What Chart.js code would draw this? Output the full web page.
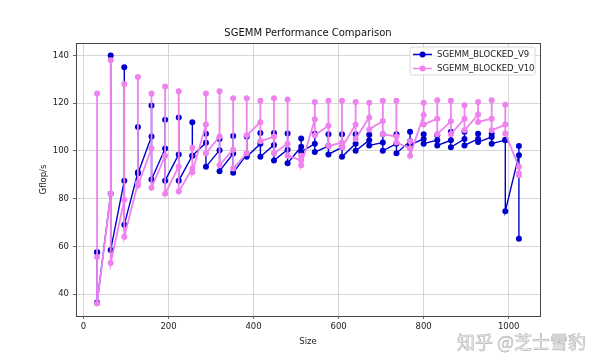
<!DOCTYPE html>
<html>
<head>
<meta charset="utf-8">
<title>SGEMM Performance Comparison</title>
<script src="https://cdn.jsdelivr.net/npm/chart.js@4.4.0/dist/chart.umd.min.js"></script>
<style>
    html, body { margin: 0; padding: 0; background: #fff; }
    #wrap { position: relative; width: 600px; height: 360px; }
    #watermark {
        position: absolute; left: 457px; top: 328px;
        font-family: "Noto Sans CJK SC", sans-serif; font-size: 18px;
        color: #f0f0f0; -webkit-text-stroke: 0.6px #b4b4b4;
        white-space: nowrap; pointer-events: none;
    }
</style>
</head>
<body>
<div id="wrap">
    <canvas id="perfChart" width="600" height="360"></canvas>
    <div id="watermark">知乎 @芝士雪豹</div>
</div>
<script>
// Matrix sizes (each size was measured three times, in plot order)
const sizes = [32, 64, 96, 128, 160, 192, 224, 256, 288, 320, 352, 384, 416, 448, 480, 512,
               544, 576, 608, 640, 672, 704, 736, 768, 800, 832, 864, 896, 928, 960, 992, 1024];

// Gflop/s per size
const blockedV9 = [
    [57.5, 57.5, 36.5], [82, 140, 58.5], [87.5, 135, 69], [91, 110, 90.5],
    [106, 119, 88], [101, 113, 87.5], [98.5, 114, 87.5], [98, 112, 98],
    [103.4, 107.2, 93.3], [100.3, 105, 91.5], [98.9, 106.2, 90.8], [98.5, 106, 97.5],
    [103, 107.5, 97.5], [102.5, 107.5, 96], [100.5, 107.3, 94.8], [101.7, 105.2, 99.6],
    [103, 107.2, 99.5], [102, 107, 98.5], [101.5, 107, 97.5], [103, 107, 100],
    [104.5, 106.8, 102.3], [103.5, 107, 100], [103, 107, 99], [104, 108, 102.5],
    [105, 107, 103], [104.5, 106.5, 102.3], [104.4, 108, 101.5], [105, 108, 102.3],
    [105, 107.2, 103.7], [105.8, 107.2, 103], [104.5, 104.7, 74.7], [98.2, 102, 63.2]
];
const blockedV10 = [
    [55.5, 124, 36], [82, 138, 53], [79.5, 128, 64], [86.5, 131, 85.5],
    [101, 124, 84.5], [98, 127, 82], [93.5, 125, 83], [92.6, 101.3, 91],
    [111, 124, 99], [106, 125, 94], [100.5, 122, 92.6], [99, 122, 106.5],
    [112, 121, 104], [106, 122, 99], [103, 121.5, 98], [96, 98, 94],
    [113.2, 120.5, 106.5], [110.5, 121, 102], [103.5, 121, 101.5], [111, 120.5, 105],
    [114, 120.2, 109], [112.5, 121, 107], [106, 121, 103.5], [101, 104, 98],
    [115, 120.2, 111], [113.5, 121.2, 107], [112.4, 121, 107], [113.5, 119.1, 108.6],
    [115.2, 120.5, 112.1], [113.5, 121.2, 108.6], [111, 119.3, 107.3], [93.3, 90.5, 89.8]
];

const xTicks = [0, 200, 400, 600, 800, 1000];
const yTicks = [40, 60, 80, 100, 120, 140];

const FONT = 'DejaVu Sans';
Chart.defaults.font.family = FONT;
Chart.defaults.color = '#222';

// flatten the per-size triples into {x, y} points
function toPoints(groups) {
    const pts = [];
    groups.forEach((vals, i) => {
        vals.forEach(v => pts.push({ x: sizes[i], y: v }));
    });
    return pts;
}

// Title, frame and legend drawn matplotlib-style
const frameAndLegend = {
    id: 'frameAndLegend',
    afterDraw(chart) {
        const ctx = chart.ctx;
        const a = chart.chartArea;
        ctx.save();

        // spines
        ctx.strokeStyle = '#444';
        ctx.lineWidth = 1;
        ctx.strokeRect(Math.round(a.left) + 0.5, Math.round(a.top) + 0.5,
            Math.round(a.right - a.left), Math.round(a.bottom - a.top));

        // title
        ctx.fillStyle = '#111';
        ctx.font = '10px "' + FONT + '"';
        ctx.textAlign = 'center';
        ctx.textBaseline = 'middle';
        ctx.fillText('SGEMM Performance Comparison', (a.left + a.right) / 2, 33);

        // legend box
        const bx = a.right - 130, by = a.top + 4, bw = 125, bh = 28, r = 2;
        ctx.beginPath();
        ctx.moveTo(bx + r, by);
        ctx.arcTo(bx + bw, by, bx + bw, by + bh, r);
        ctx.arcTo(bx + bw, by + bh, bx, by + bh, r);
        ctx.arcTo(bx, by + bh, bx, by, r);
        ctx.arcTo(bx, by, bx + bw, by, r);
        ctx.closePath();
        ctx.fillStyle = 'rgba(255,255,255,0.8)';
        ctx.fill();
        ctx.strokeStyle = '#d0d0d0';
        ctx.lineWidth = 0.8;
        ctx.stroke();

        ctx.font = '8.5px "' + FONT + '"';
        ctx.textAlign = 'left';
        chart.data.datasets.forEach((ds, i) => {
            const cy = by + 7.5 + i * 14;
            ctx.strokeStyle = ds.borderColor;
            ctx.lineWidth = 1.5;
            ctx.beginPath();
            ctx.moveTo(bx + 3, cy);
            ctx.lineTo(bx + 22, cy);
            ctx.stroke();
            ctx.fillStyle = ds.borderColor;
            ctx.beginPath();
            ctx.arc(bx + 12.5, cy, 3, 0, Math.PI * 2);
            ctx.fill();
            ctx.fillStyle = '#222';
            ctx.fillText(ds.label, bx + 27, cy + 0.5);
        });
        ctx.restore();
    }
};

const ctx = document.getElementById('perfChart').getContext('2d');
const perfChart = new Chart(ctx, {
    type: 'line',
    data: {
        datasets: [
            {
                label: 'SGEMM_BLOCKED_V9',
                data: toPoints(blockedV9),
                borderColor: '#0000cd',
                backgroundColor: '#0000cd',
                borderWidth: 1.4,
                pointBorderWidth: 0,
                order: 1
            },
            {
                // lower order = drawn last, so V10 sits on top like in matplotlib
                label: 'SGEMM_BLOCKED_V10',
                data: toPoints(blockedV10),
                borderColor: '#ee82ee',
                backgroundColor: '#ee82ee',
                borderWidth: 1.8,
                pointBorderWidth: 0,
                order: 0
            }
        ]
    },
    options: {
        responsive: false,
        animation: false,
        devicePixelRatio: 1,
        layout: { padding: { top: 43, right: 60, left: 0, bottom: 0 } },
        elements: {
            line: { tension: 0 },
            point: { radius: 3, hoverRadius: 3, borderWidth: 0 }
        },
        plugins: {
            legend: { display: false },
            title: { display: false },
            tooltip: { enabled: false }
        },
        scales: {
            x: {
                type: 'linear',
                min: -17.6,
                max: 1073.6,
                afterBuildTicks: s => { s.ticks = xTicks.map(v => ({ value: v })); },
                afterFit: s => { s.height = 44; },
                border: { display: false },
                grid: { color: '#cccccc', lineWidth: 0.8, tickColor: '#444', tickLength: 3 },
                ticks: { font: { size: 8.5 }, padding: 3, maxRotation: 0, callback: v => String(v) },
                title: { display: true, text: 'Size', font: { size: 8.5 }, padding: { top: 0, bottom: 13 } }
            },
            y: {
                type: 'linear',
                min: 30.8,
                max: 145.2,
                afterBuildTicks: s => { s.ticks = yTicks.map(v => ({ value: v })); },
                afterFit: s => { s.width = 76; },
                border: { display: false },
                grid: { color: '#cccccc', lineWidth: 0.8, tickColor: '#444', tickLength: 3 },
                ticks: { font: { size: 8.5 }, padding: 4, callback: v => String(v) },
                title: { display: true, text: 'Gflop/s', font: { size: 8.5 }, padding: { top: 39, bottom: 0 } }
            }
        }
    },
    plugins: [frameAndLegend]
});
</script>
</body>
</html>
